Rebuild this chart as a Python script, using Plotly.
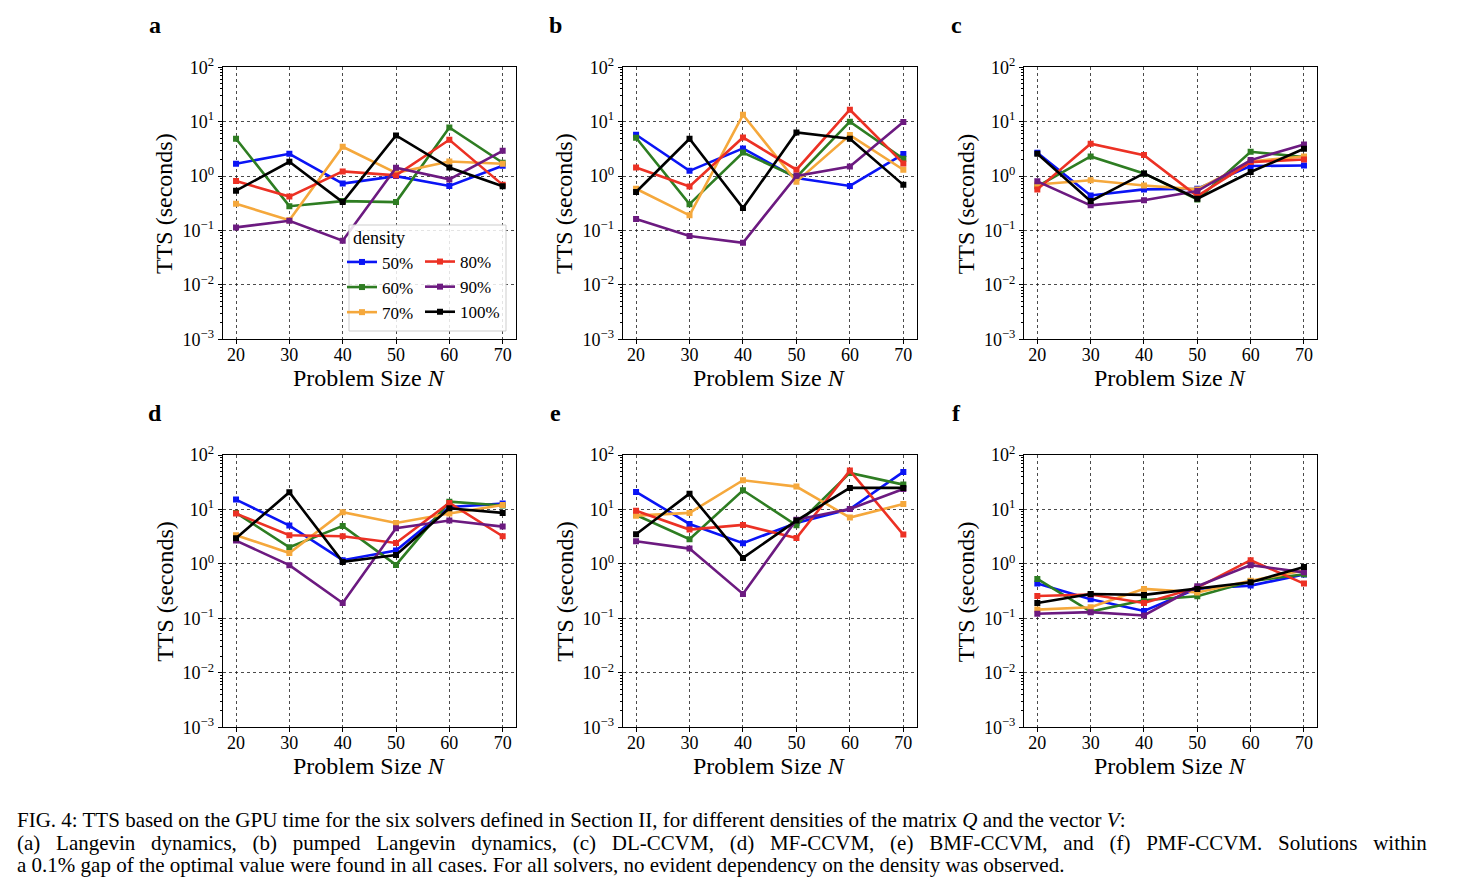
import plotly.graph_objects as go

W, H = 1462, 892
OX, OY = 8, 8  # page offset of the plot div


def px(x):
    return (x - OX) / W


def py(y):
    return 1 - (y - OY) / H


N = [20, 30, 40, 50, 60, 70]
densities = ["50%", "60%", "70%", "80%", "90%", "100%"]
colors = ["#0a14f5", "#2e7d22", "#f5a83c", "#ec3124", "#6c1a80", "#000000"]

# TTS (seconds) per panel, per density (50,60,70,80,90,100 %)
tts_a = [
    [1.69, 2.57, 0.73, 1.00, 0.66, 1.55],
    [4.86, 0.28, 0.347, 0.333, 7.85, 1.76],
    [0.31, 0.155, 3.46, 1.15, 1.86, 1.69],
    [0.81, 0.42, 1.22, 1.03, 4.65, 0.69],
    [0.114, 0.151, 0.065, 1.42, 0.87, 2.92],
    [0.54, 1.83, 0.333, 5.6, 1.44, 0.65],
]
tts_b = [
    [5.75, 1.25, 3.23, 0.92, 0.66, 2.54],
    [5.07, 0.305, 2.72, 0.96, 10.0, 2.08],
    [0.585, 0.19, 13.4, 0.79, 5.67, 1.31],
    [1.44, 0.646, 5.14, 1.31, 16.6, 1.71],
    [0.162, 0.079, 0.0595, 1.01, 1.5, 9.84],
    [0.51, 4.86, 0.258, 6.35, 4.86, 0.69],
]
tts_c = [
    [2.69, 0.44, 0.57, 0.585, 1.53, 1.57],
    [0.65, 2.3, 1.12, 0.372, 2.8, 2.25],
    [0.70, 0.84, 0.67, 0.57, 1.86, 2.3],
    [0.57, 3.93, 2.43, 0.43, 1.81, 2.02],
    [0.80, 0.29, 0.36, 0.53, 1.97, 3.82],
    [2.57, 0.347, 1.12, 0.383, 1.19, 3.18],
]
tts_d = [
    [15.2, 5.06, 1.17, 1.76, 11.1, 12.8],
    [8.64, 2.02, 4.99, 0.96, 13.9, 11.8],
    [3.36, 1.59, 8.89, 5.66, 8.4, 12.1],
    [8.4, 3.36, 3.22, 2.43, 13.2, 3.22],
    [2.68, 0.95, 0.192, 4.52, 6.25, 4.84],
    [2.96, 20.7, 1.09, 1.46, 10.5, 8.64],
]
tts_e = [
    [21.0, 5.42, 2.4, 5.66, 10.2, 48.9],
    [7.9, 2.84, 22.5, 5.13, 46.9, 28.6],
    [7.7, 8.64, 34.4, 26.3, 7.1, 12.6],
    [9.5, 4.27, 5.2, 3.0, 51.7, 3.46],
    [2.61, 1.91, 0.281, 6.5, 10.2, 23.8],
    [3.51, 19.5, 1.29, 6.25, 24.9, 24.9],
]
tts_f = [
    [0.435, 0.225, 0.137, 0.352, 0.40, 0.64],
    [0.53, 0.133, 0.215, 0.255, 0.48, 0.645],
    [0.145, 0.16, 0.348, 0.30, 0.49, 0.755],
    [0.258, 0.274, 0.192, 0.367, 1.17, 0.435],
    [0.122, 0.13, 0.113, 0.389, 0.95, 0.70],
    [0.192, 0.281, 0.27, 0.348, 0.46, 0.88],
]
panels = [tts_a, tts_b, tts_c, tts_d, tts_e, tts_f]
panel_letters = ["a", "b", "c", "d", "e", "f"]

ytick_vals = [1e-3, 1e-2, 1e-1, 1e0, 1e1, 1e2]
ytick_text = ["10<sup>\u22123</sup>", "10<sup>\u22122</sup>", "10<sup>\u22121</sup>",
              "10<sup>0</sup>", "10<sup>1</sup>", "10<sup>2</sup>"]
yminor_vals = [m * d for d in ytick_vals[:-1] for m in range(2, 10)]
xlabel = "Problem Size <i>N</i>"
ylabel = "TTS (seconds)"

FONT = "Liberation Serif"

xdoms_px = [(222.7, 516.0), (622.7, 916.7), (1024.0, 1317.3)]
ydoms_px = [(67.3, 339.3), (455.0, 727.3)]

fig = go.Figure()
layout = dict(
    width=W, height=H,
    margin=dict(l=0, r=0, t=0, b=0, autoexpand=False),
    paper_bgcolor="white", plot_bgcolor="white",
    font=dict(family=FONT, color="black", size=16),
    showlegend=True,
)

annotations = []
for p, data in enumerate(panels):
    r, c = divmod(p, 3)
    idx = p + 1
    xa = "x" if idx == 1 else f"x{idx}"
    ya = "y" if idx == 1 else f"y{idx}"
    x0, x1 = xdoms_px[c]
    y0, y1 = ydoms_px[r]
    xd = [px(x0), px(x1)]
    yd = [py(y1), py(y0)]
    axis_common = dict(
        showline=True, linecolor="black", linewidth=1.2, mirror=True,
        ticks="outside", ticklen=4, tickwidth=1, tickcolor="black",
        showgrid=True, gridcolor="rgba(30,30,30,0.8)", gridwidth=0.8, griddash="dot",
        zeroline=False, automargin=False,
        tickfont=dict(family=FONT, size=18, color="black"),
    )
    layout[("xaxis" if idx == 1 else f"xaxis{idx}")] = dict(
        axis_common, domain=xd, anchor=ya, range=[17.5, 72.5],
        tickvals=N, ticktext=[str(n) for n in N], ticklabelstandoff=-5,
    )
    layout[("yaxis" if idx == 1 else f"yaxis{idx}")] = dict(
        axis_common, domain=yd, anchor=xa, type="log", range=[-3, 2],
        tickvals=ytick_vals, ticktext=ytick_text,
        minor=dict(tickvals=yminor_vals, ticks="outside", ticklen=2,
                   tickwidth=0.8, tickcolor="black", showgrid=False),
    )
    for k, dens in enumerate(densities):
        fig.add_trace(go.Scatter(
            x=N, y=data[k], xaxis=xa, yaxis=ya, mode="lines+markers",
            line=dict(color=colors[k], width=2.6),
            marker=dict(symbol="square", size=6, color=colors[k]),
            name=dens, showlegend=(p == 0),
            legend=("legend" if k < 3 else "legend2"),
        ))
    # axis titles
    annotations.append(dict(
        text=xlabel, x=px((x0 + x1) / 2), y=py(y1 + 38.5), xref="paper", yref="paper",
        showarrow=False, xanchor="center", yanchor="middle",
        font=dict(family=FONT, size=24, color="black"),
    ))
    annotations.append(dict(
        text=ylabel, x=px(x0 - 58), y=py((y0 + y1) / 2), xref="paper", yref="paper",
        showarrow=False, xanchor="center", yanchor="middle", textangle=-90,
        font=dict(family=FONT, size=24, color="black"),
    ))
    # panel letter
    annotations.append(dict(
        text=f"<b>{panel_letters[p]}</b>", x=px(x0 - 67.5),
        y=py(y0 - 42), xref="paper", yref="paper",
        showarrow=False, xanchor="center", yanchor="middle",
        font=dict(family=FONT, size=24, color="black"),
    ))

# legend box (panel a)
lx0, lx1, ly0, ly1 = 349, 506, 225, 331
layout["shapes"] = [dict(
    type="rect", xref="paper", yref="paper", layer="above",
    x0=px(lx0), x1=px(lx1), y0=py(ly1), y1=py(ly0),
    line=dict(color="rgba(205,205,205,1)", width=1), fillcolor="rgba(255,255,255,0.85)",
)]
layout["legend"] = dict(
    x=px(342), y=py(221), xanchor="left", yanchor="top",
    bgcolor="rgba(0,0,0,0)", borderwidth=0,
    title=dict(text="\u00a0\u00a0density", font=dict(family=FONT, size=18)),
    font=dict(family=FONT, size=17), itemwidth=30, tracegroupgap=0,
)
layout["legend2"] = dict(
    x=px(420), y=py(244), xanchor="left", yanchor="top",
    bgcolor="rgba(0,0,0,0)", borderwidth=0,
    font=dict(family=FONT, size=17), itemwidth=30, tracegroupgap=0,
)

caption = [
    "FIG. 4: TTS based on the GPU time for the six solvers defined in Section II, for different densities of the matrix <i>Q</i> and the vector <i>V</i>:",
    "(a) Langevin dynamics, (b) pumped Langevin dynamics, (c) DL-CCVM, (d) MF-CCVM, (e) BMF-CCVM, and (f) PMF-CCVM. Solutions within",
    "a 0.1% gap of the optimal value were found in all cases. For all solvers, no evident dependency on the density was observed.",
]
justify = [False, True, False]
for i, line in enumerate(caption):
    txt = line.replace(" ", " \u2002") if justify[i] else line
    annotations.append(dict(
        text=txt, x=px(15), y=py(820 + 22.5 * i), xref="paper", yref="paper",
        showarrow=False, xanchor="left", yanchor="middle", align="left",
        font=dict(family=FONT, size=21, color="black"),
    ))
layout["annotations"] = annotations

fig.update_layout(**layout)
fig.write_html("out.html")
